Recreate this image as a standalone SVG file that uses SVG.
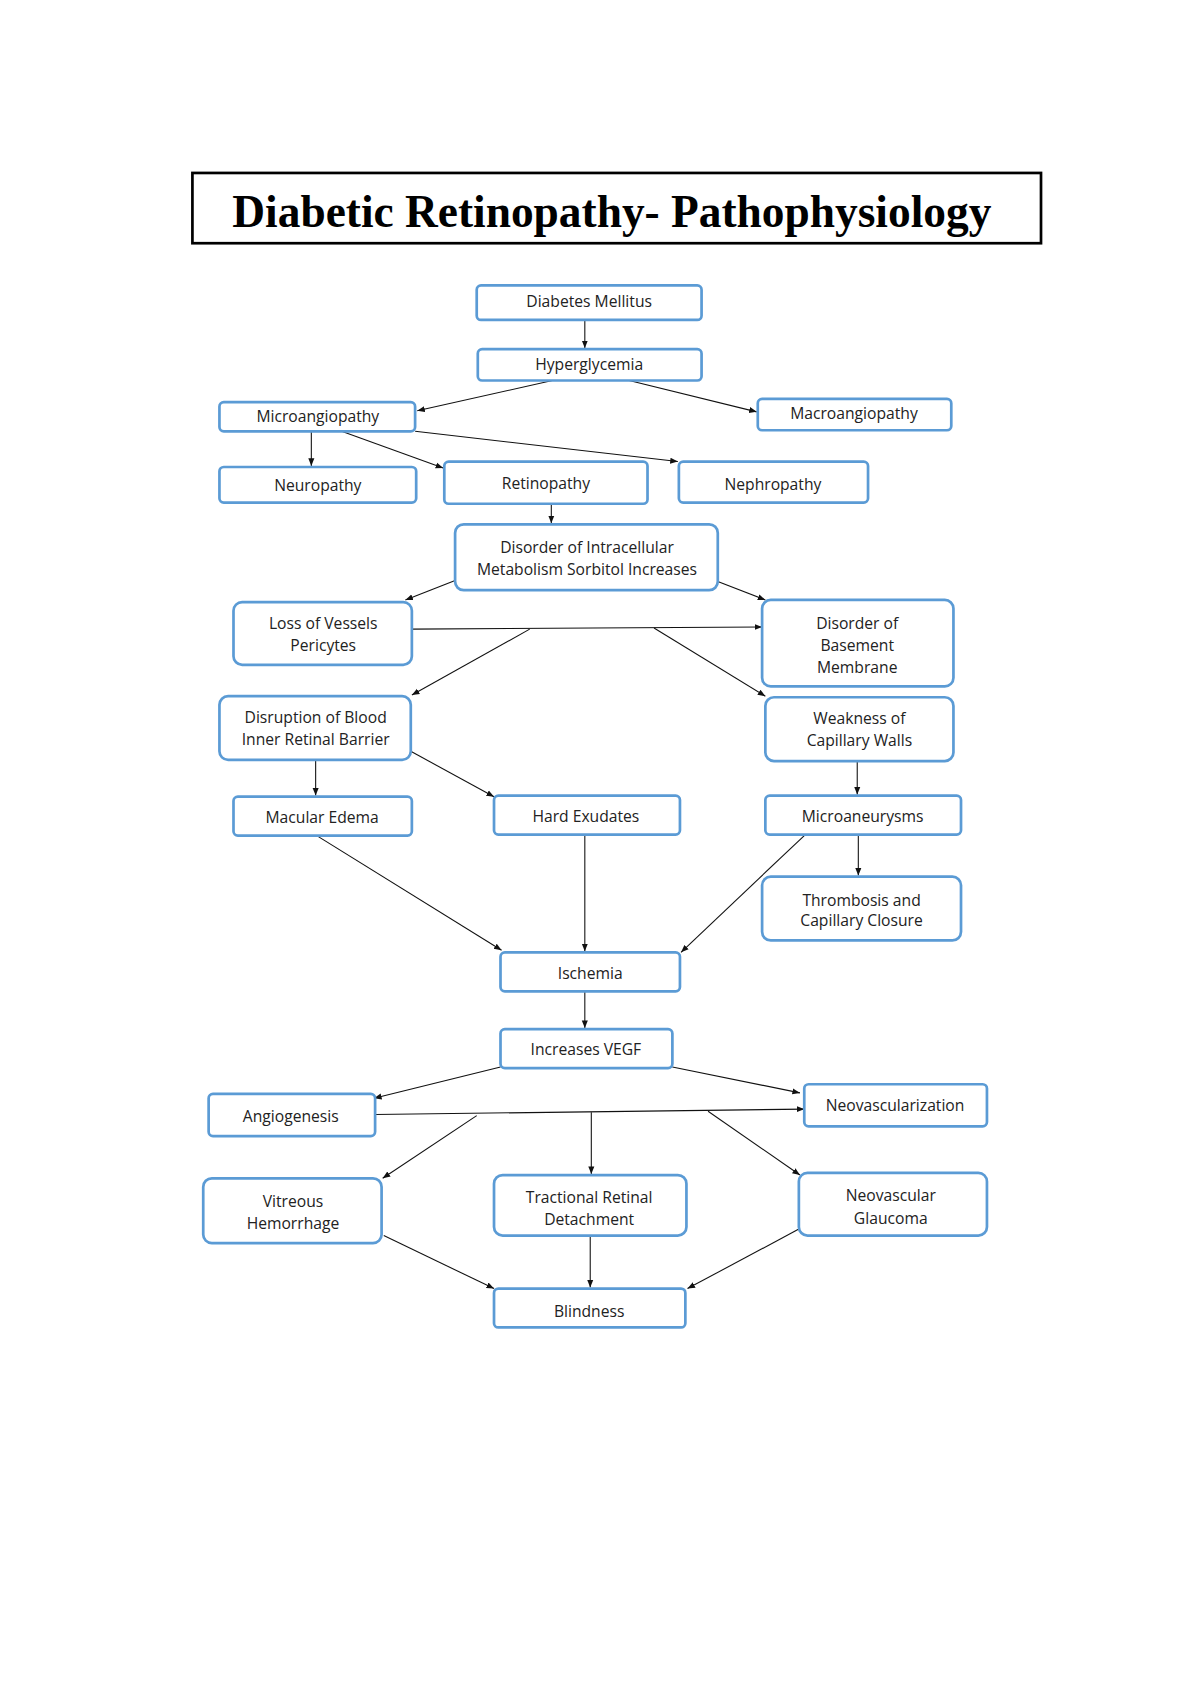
<svg xmlns="http://www.w3.org/2000/svg" width="1200" height="1696" viewBox="0 0 1200 1696">
<style>
.n{fill:#fff;stroke:#5b9bd5;stroke-width:2.5}
.t{font-family:"Open Sans","DejaVu Sans",sans-serif;font-size:14.5px;fill:#222;text-anchor:middle}
.c line{stroke:#111;stroke-width:1}
</style>
<defs><marker id="a" viewBox="0 0 10 10" refX="10" refY="5" markerWidth="7" markerHeight="7" orient="auto"><path d="M0,1L10,5L0,9z" fill="#111"/></marker></defs>
<rect width="1200" height="1696" fill="#fff"/>
<g transform="scale(1.081)">
<g id="title"><rect x="178" y="160" width="785" height="65" fill="#fff" stroke="#000" stroke-width="2.5"/><text x="566" y="210" font-family="Liberation Serif,serif" font-weight="bold" font-size="42" text-anchor="middle">Diabetic Retinopathy- Pathophysiology</text></g>
<g class="c" marker-end="url(#a)">
<line x1="541" y1="296" x2="541" y2="322" marker-end="url(#a)"/>
<line x1="511" y1="352" x2="386" y2="380" marker-end="url(#a)"/>
<line x1="582" y1="352" x2="700" y2="381" marker-end="url(#a)"/>
<line x1="288" y1="399" x2="288" y2="431" marker-end="url(#a)"/>
<line x1="316" y1="399" x2="410" y2="433" marker-end="url(#a)"/>
<line x1="384" y1="399" x2="627" y2="427" marker-end="url(#a)"/>
<line x1="510" y1="466" x2="510" y2="484" marker-end="url(#a)"/>
<line x1="421" y1="537" x2="375" y2="555" marker-end="url(#a)"/>
<line x1="664" y1="538" x2="708" y2="555" marker-end="url(#a)"/>
<line x1="381" y1="582" x2="705" y2="580"/>
<line x1="490" y1="582" x2="381" y2="643" marker-end="url(#a)"/>
<line x1="605" y1="581" x2="708" y2="644" marker-end="url(#a)"/>
<line x1="292" y1="703" x2="292" y2="736" marker-end="url(#a)"/>
<line x1="380" y1="695" x2="457" y2="737" marker-end="url(#a)"/>
<line x1="793" y1="704" x2="793" y2="735" marker-end="url(#a)"/>
<line x1="794" y1="772" x2="794" y2="810" marker-end="url(#a)"/>
<line x1="293" y1="773" x2="464" y2="879" marker-end="url(#a)"/>
<line x1="541" y1="772" x2="541" y2="880" marker-end="url(#a)"/>
<line x1="745" y1="772" x2="630" y2="881" marker-end="url(#a)"/>
<line x1="541" y1="917" x2="541" y2="951" marker-end="url(#a)"/>
<line x1="463" y1="987" x2="346" y2="1016" marker-end="url(#a)"/>
<line x1="622" y1="987" x2="740" y2="1011" marker-end="url(#a)"/>
<line x1="347" y1="1031" x2="744" y2="1026"/>
<line x1="441" y1="1032" x2="354" y2="1090" marker-end="url(#a)"/>
<line x1="547" y1="1029" x2="547" y2="1086" marker-end="url(#a)"/>
<line x1="655" y1="1028" x2="740" y2="1087" marker-end="url(#a)"/>
<line x1="546" y1="1143" x2="546" y2="1191" marker-end="url(#a)"/>
<line x1="355" y1="1143" x2="457" y2="1192" marker-end="url(#a)"/>
<line x1="739" y1="1137" x2="636" y2="1192" marker-end="url(#a)"/>
</g>
<g id="dm"><rect class="n" x="441" y="264" width="208" height="32" rx="4"/><text class="t" x="545" y="284">Diabetes Mellitus</text></g>
<g id="hyper"><rect class="n" x="442" y="323" width="207" height="29" rx="4"/><text class="t" x="545" y="342">Hyperglycemia</text></g>
<g id="micro"><rect class="n" x="203" y="372" width="181" height="27" rx="4"/><text class="t" x="294" y="390">Microangiopathy</text></g>
<g id="macro"><rect class="n" x="701" y="369" width="179" height="29" rx="4"/><text class="t" x="790" y="388">Macroangiopathy</text></g>
<g id="neuro"><rect class="n" x="203" y="432" width="182" height="33" rx="4"/><text class="t" x="294" y="454">Neuropathy</text></g>
<g id="retino"><rect class="n" x="411" y="427" width="188" height="39" rx="4"/><text class="t" x="505" y="452">Retinopathy</text></g>
<g id="nephro"><rect class="n" x="628" y="427" width="175" height="38" rx="4"/><text class="t" x="715" y="453">Nephropathy</text></g>
<g id="disorder"><rect class="n" x="421" y="485" width="243" height="61" rx="8"/><text class="t" x="543" y="512">Disorder of Intracellular</text><text class="t" x="543" y="532">Metabolism Sorbitol Increases</text></g>
<g id="loss"><rect class="n" x="216" y="557" width="165" height="58" rx="8"/><text class="t" x="299" y="582">Loss of Vessels</text><text class="t" x="299" y="602">Pericytes</text></g>
<g id="basement"><rect class="n" x="705" y="555" width="177" height="80" rx="8"/><text class="t" x="793" y="582">Disorder of</text><text class="t" x="793" y="602">Basement</text><text class="t" x="793" y="623">Membrane</text></g>
<g id="disruption"><rect class="n" x="203" y="644" width="177" height="59" rx="8"/><text class="t" x="292" y="669">Disruption of Blood</text><text class="t" x="292" y="689">Inner Retinal Barrier</text></g>
<g id="weakness"><rect class="n" x="708" y="645" width="174" height="59" rx="8"/><text class="t" x="795" y="670">Weakness of</text><text class="t" x="795" y="690">Capillary Walls</text></g>
<g id="macular"><rect class="n" x="216" y="737" width="165" height="36" rx="4"/><text class="t" x="298" y="761">Macular Edema</text></g>
<g id="hard"><rect class="n" x="457" y="736" width="172" height="36" rx="4"/><text class="t" x="542" y="760">Hard Exudates</text></g>
<g id="microan"><rect class="n" x="708" y="736" width="181" height="36" rx="4"/><text class="t" x="798" y="760">Microaneurysms</text></g>
<g id="thromb"><rect class="n" x="705" y="811" width="184" height="59" rx="8"/><text class="t" x="797" y="838">Thrombosis and</text><text class="t" x="797" y="857">Capillary Closure</text></g>
<g id="isch"><rect class="n" x="463" y="881" width="166" height="36" rx="4"/><text class="t" x="546" y="906">Ischemia</text></g>
<g id="vegf"><rect class="n" x="463" y="952" width="159" height="36" rx="4"/><text class="t" x="542" y="976">Increases VEGF</text></g>
<g id="angio"><rect class="n" x="193" y="1012" width="154" height="39" rx="4"/><text class="t" x="269" y="1038">Angiogenesis</text></g>
<g id="neovasc"><rect class="n" x="744" y="1003" width="169" height="39" rx="4"/><text class="t" x="828" y="1028">Neovascularization</text></g>
<g id="vitreous"><rect class="n" x="188" y="1090" width="165" height="60" rx="8"/><text class="t" x="271" y="1117">Vitreous</text><text class="t" x="271" y="1137">Hemorrhage</text></g>
<g id="tract"><rect class="n" x="457" y="1087" width="178" height="56" rx="8"/><text class="t" x="545" y="1113">Tractional Retinal</text><text class="t" x="545" y="1133">Detachment</text></g>
<g id="glauc"><rect class="n" x="739" y="1085" width="174" height="58" rx="8"/><text class="t" x="824" y="1111">Neovascular</text><text class="t" x="824" y="1132">Glaucoma</text></g>
<g id="blind"><rect class="n" x="457" y="1192" width="177" height="36" rx="4"/><text class="t" x="545" y="1218">Blindness</text></g>
</g>
</svg>
